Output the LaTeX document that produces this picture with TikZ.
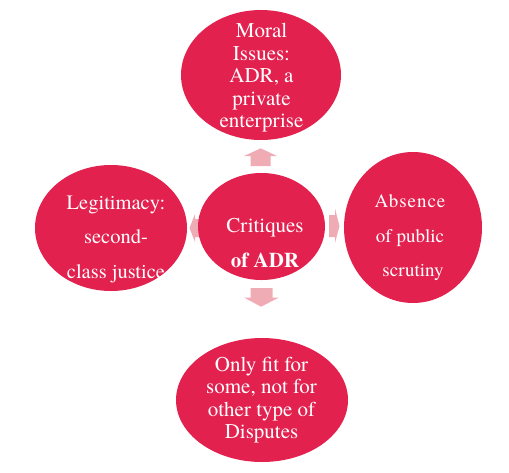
\documentclass[tikz,border=0pt]{standalone}
\usepackage{fontspec}
\setmainfont{texgyretermes}[Extension=.otf,UprightFont=*-regular,BoldFont=*-bold,ItalicFont=*-italic,BoldItalicFont=*-bolditalic]
\definecolor{blobred}{HTML}{E3214F}
\definecolor{arrowpink}{HTML}{F0ACB4}
\begin{document}
\begin{tikzpicture}[x=1pt,y=-1pt,
  blob/.style={fill=blobred,draw=none},
  blockarrow/.style={fill=arrowpink,draw=none},
  lbl/.style={text=white,align=center,inner sep=0pt}]
\useasboundingbox (0,0) rectangle (509,472);
% arrows (behind)
\fill[blockarrow] (250.7,166) -- (250.7,156) -- (244,156) -- (260.7,148.3) -- (277,156) -- (270.7,156) -- (270.7,166) -- cycle;
\fill[blockarrow] (250.7,288) -- (250.7,297.5) -- (244,297.5) -- (261,306.7) -- (279,297.5) -- (272.7,297.5) -- (272.7,288) -- cycle;
\fill[blockarrow] (329,215) -- (335,215) -- (335,208.5) -- (339.5,226) -- (335,243) -- (335,237) -- (329,237) -- cycle;
\fill[blockarrow] (199,219) -- (195,219) -- (195,214) -- (189.5,228) -- (195,242) -- (195,237) -- (199,237) -- cycle;
% ellipses
\fill[blob] (261,75) ellipse [x radius=80, y radius=65];
\fill[blob] (261.5,226.5) ellipse [x radius=63.5, y radius=53.5];
\fill[blob] (111,228) ellipse [x radius=76, y radius=63];
\fill[blob] (413,227.5) ellipse [x radius=69, y radius=75.5];
\fill[blob] (262,400) ellipse [x radius=86, y radius=62];
% labels
\node[lbl,font=\fontsize{21}{22.5}\selectfont] (moral) at (261.5,78) {Moral\\Issues:\\ADR, a\\private\\enterprise};
\node[lbl,font=\fontsize{20.5}{34.5}\selectfont] (legit) at (116,239) {Legitimacy:\\second-\\class justice};
\node[lbl,font=\fontsize{21}{35}\selectfont] (crit) at (265,243) {Critiques\\\textbf{of ADR}};
\node[lbl,font=\fontsize{19}{34.5}\selectfont] (absence) at (410,238) {{\addfontfeature{LetterSpace=5}Absence}\\of public\\\hspace*{6pt}scrutiny};
\node[lbl,font=\fontsize{21}{22.5}\selectfont] (only) at (261.5,400) {Only fit for\\some, not for\\other type of\\Disputes};
\end{tikzpicture}
\end{document}
